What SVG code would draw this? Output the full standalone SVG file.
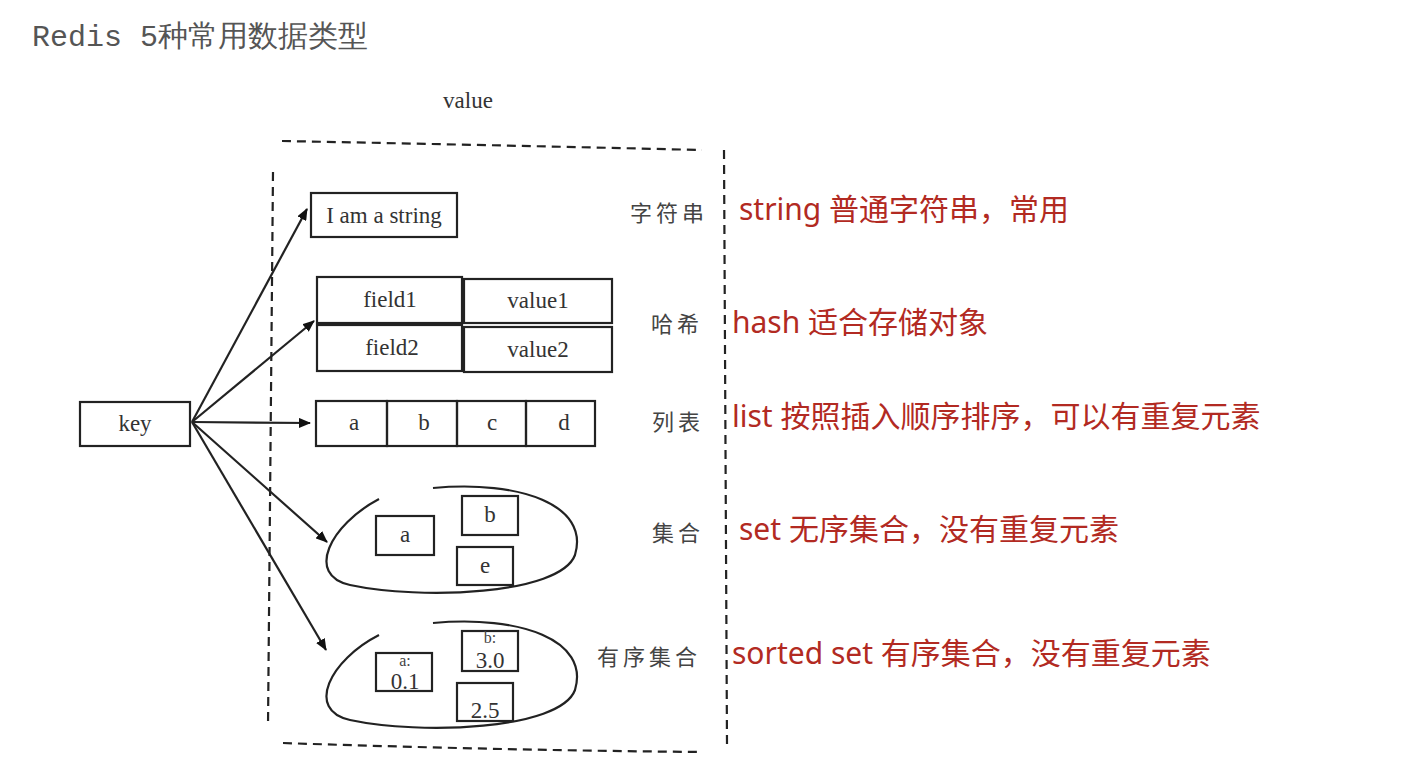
<svg xmlns="http://www.w3.org/2000/svg" width="1413" height="759" viewBox="0 0 1413 759">
<defs>
<marker id="ah" markerWidth="12" markerHeight="10" refX="11" refY="5" orient="auto" markerUnits="userSpaceOnUse"><path d="M0,0 L12,5 L0,10 Z" fill="#111"/></marker>
<style>
.b{fill:none;stroke:#222;stroke-width:2.2}
.d{fill:none;stroke:#222;stroke-width:2.2;stroke-dasharray:9,6}
.t{font-family:"Liberation Serif",serif;font-size:23px;fill:#333;text-anchor:middle}
.s{font-family:"Liberation Serif",serif;font-size:16px;fill:#444;text-anchor:middle}
.c{font-family:"Noto Sans CJK SC",sans-serif;font-size:22px;fill:#444;letter-spacing:4px}
.r{font-family:"Noto Sans","Noto Sans CJK SC",sans-serif;font-size:30px;fill:#b22a22}
</style>
</defs>
<rect width="1413" height="759" fill="#fff"/>
<text x="32" y="46" font-family="Liberation Mono,monospace" font-size="30" fill="#555">Redis 5种常用数据类型</text>
<text x="468" y="108" class="t">value</text>
<g id="frame">
<path class="d" d="M282,141 Q490,145 702,150"/>
<path class="d" d="M273,172 L268,726"/>
<path class="d" d="M724,150 L727,745"/>
<path class="d" d="M283,743 Q490,750 700,752"/>
</g>
<g id="key"><rect class="b" x="80" y="402" width="110" height="44"/><text x="135" y="431" class="t">key</text></g>
<g id="string"><rect class="b" x="311" y="193" width="146" height="44"/><text x="384" y="223" class="t">I am a string</text></g>
<g id="hash">
<rect class="b" x="317" y="277" width="145" height="46"/><text x="390" y="307" class="t">field1</text>
<rect class="b" x="464" y="279" width="148" height="44"/><text x="538" y="308" class="t">value1</text>
<rect class="b" x="317" y="325" width="145" height="46"/><text x="392" y="355" class="t">field2</text>
<rect class="b" x="464" y="327" width="148" height="45"/><text x="538" y="357" class="t">value2</text>
</g>
<g id="list">
<rect class="b" x="316" y="401" width="71" height="45"/><text x="354" y="430" class="t">a</text>
<rect class="b" x="387" y="401" width="70" height="45"/><text x="424" y="430" class="t">b</text>
<rect class="b" x="457" y="401" width="69" height="45"/><text x="492" y="430" class="t">c</text>
<rect class="b" x="526" y="401" width="69" height="45"/><text x="564" y="430" class="t">d</text>
</g>
<g id="set">
<path class="b" d="M379,499 C330,525 305,575 350,585 C420,600 560,595 575,555 C590,505 520,480 433,488"/>
<rect class="b" x="376" y="516" width="58" height="39"/><text x="405" y="542" class="t">a</text>
<rect class="b" x="462" y="496" width="56" height="39"/><text x="490" y="522" class="t">b</text>
<rect class="b" x="457" y="547" width="56" height="38"/><text x="485" y="573" class="t">e</text>
</g>
<g id="zset">
<path class="b" d="M379,635 C330,660 305,710 350,720 C420,735 560,730 575,690 C590,640 520,615 433,623"/>
<rect class="b" x="376" y="653" width="56" height="38"/><text x="405" y="666" class="s">a:</text><text x="405" y="689" class="t">0.1</text>
<rect class="b" x="462" y="631" width="56" height="40"/><text x="490" y="643" class="s">b:</text><text x="490" y="668" class="t">3.0</text>
<rect class="b" x="457" y="683" width="56" height="38"/><text x="485" y="718" class="t">2.5</text>
</g>
<g id="connectors">
<path class="b" d="M192,422 L307,209" marker-end="url(#ah)"/>
<path class="b" d="M192,422 L314,321" marker-end="url(#ah)"/>
<path class="b" d="M192,422 L310,423" marker-end="url(#ah)"/>
<path class="b" d="M192,422 L327,542" marker-end="url(#ah)"/>
<path class="b" d="M192,422 L326,650" marker-end="url(#ah)"/>
</g>
<g id="labels">
<text x="630" y="221" class="c">字符串</text>
<text x="651" y="332" class="c">哈希</text>
<text x="652" y="430" class="c">列表</text>
<text x="652" y="541" class="c">集合</text>
<text x="597" y="665" class="c">有序集合</text>
<text x="739" y="220" class="r">string 普通字符串，常用</text>
<text x="732" y="333" class="r">hash 适合存储对象</text>
<text x="732" y="427" class="r">list 按照插入顺序排序，可以有重复元素</text>
<text x="739" y="540" class="r">set 无序集合，没有重复元素</text>
<text x="732" y="664" class="r">sorted set 有序集合，没有重复元素</text>
</g>
</svg>
